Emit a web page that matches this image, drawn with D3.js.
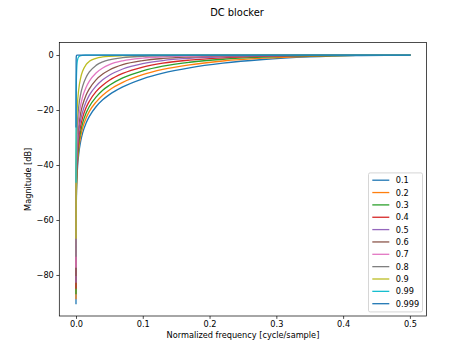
<!DOCTYPE html>
<html>
<head>
<meta charset="utf-8">
<script src="https://cdn.jsdelivr.net/npm/d3@7"></script>
<style>
  html, body { margin: 0; padding: 0; background: #fff; overflow: hidden; }
  svg { display: block; }
  text { font-family: "DejaVu Sans", sans-serif; fill: #000; }
</style>
</head>
<body>
<svg id="mainFrame" width="474" height="355"></svg>
<script>
// frequency grid (cycle/sample) shared by every curve
const freqs = [0.0000079, 0.0002, 0.0005, 0.001, 0.002, 0.004, 0.007, 0.01, 0.015, 0.02,
    0.03, 0.04, 0.05, 0.07, 0.1, 0.13, 0.17, 0.22, 0.28, 0.35, 0.42, 0.5];

const coefs = ['0.1', '0.2', '0.3', '0.4', '0.5', '0.6', '0.7', '0.8', '0.9', '0.99', '0.999'];

// magnitude in dB
const mag01 = [-90.4, -62.3, -54.3, -48.3, -42.3, -36.3, -31.4, -28.3, -24.8, -22.3, -18.8, -16.3, -14.4, -11.6, -8.66, -6.58, -4.65, -2.96, -1.63, -0.69, -0.19, 0];
const mag02 = [-88.6, -60.5, -52.6, -46.5, -40.5, -34.5, -29.6, -26.5, -23.0, -20.5, -17.1, -14.6, -12.7, -9.95, -7.17, -5.26, -3.57, -2.17, -1.15, -0.47, -0.13, 0];
const mag03 = [-86.8, -58.7, -50.7, -44.7, -38.7, -32.6, -27.8, -24.7, -21.2, -18.7, -15.3, -12.8, -11.0, -8.32, -5.74, -4.04, -2.63, -1.53, -0.78, -0.31, -0.09, 0];
const mag04 = [-84.8, -56.7, -48.7, -42.7, -36.7, -30.7, -25.8, -22.7, -19.2, -16.8, -13.3, -11.0, -9.20, -6.69, -4.38, -2.95, -1.84, -1.03, -0.51, -0.20, -0.06, 0];
const mag05 = [-82.6, -54.5, -46.5, -40.5, -34.5, -28.5, -23.6, -20.6, -17.1, -14.6, -11.3, -9.01, -7.34, -5.08, -3.12, -2.01, -1.20, -0.65, -0.31, -0.12, -0.03, 0];
const mag06 = [-80.1, -52.0, -44.0, -38.0, -32.0, -26.0, -21.1, -18.1, -14.6, -12.3, -9.03, -6.92, -5.43, -3.52, -2.04, -1.25, -0.72, -0.38, -0.18, -0.07, -0.02, 0];
const mag07 = [-77.1, -49.0, -41.0, -35.0, -29.0, -23.0, -18.2, -15.1, -11.8, -9.48, -6.52, -4.70, -3.50, -2.10, -1.12, -0.67, -0.38, -0.19, -0.09, -0.03, -0.01, 0];
const mag08 = [-73.1, -45.0, -37.0, -31.0, -25.0, -19.0, -14.2, -11.3, -8.17, -6.15, -3.77, -2.49, -1.74, -0.95, -0.48, -0.28, -0.16, -0.08, -0.03, -0.01, 0, 0];
const mag09 = [-66.6, -38.5, -30.5, -24.5, -18.5, -12.7, -8.27, -5.81, -3.51, -2.30, -1.18, -0.70, -0.45, -0.23, -0.11, -0.07, -0.04, -0.02, -0.01, 0, 0, 0];
const mag099 = [-46.2, -18.1, -10.5, -5.52, -2.15, -0.65, -0.22, -0.11, -0.05, -0.03, -0.01, 0, 0, 0, 0, 0, 0, 0, 0, 0, 0, 0];
const mag0999 = [-26.1, -2.14, -0.42, -0.11, -0.03, -0.01, 0, 0, 0, 0, 0, 0, 0, 0, 0, 0, 0, 0, 0, 0, 0, 0];

const magnitudes = [mag01, mag02, mag03, mag04, mag05, mag06, mag07, mag08, mag09, mag099, mag0999];

const xTicks = [0, 0.1, 0.2, 0.3, 0.4, 0.5];
const yTicks = [0, -20, -40, -60, -80];

const colors = ['#1f77b4', '#ff7f0e', '#2ca02c', '#d62728', '#9467bd', '#8c564b',
    '#e377c2', '#7f7f7f', '#bcbd22', '#17becf', '#1f77b4'];

const svg = d3.select('#mainFrame');
const width = +svg.attr('width');
const height = +svg.attr('height');

const margin = { top: 42.6, right: 47.4, bottom: 39, left: 59.3 };
const innerWidth = width - margin.left - margin.right;
const innerHeight = height - margin.top - margin.bottom;

// matplotlib style 5% margins
const xMin = 0, xMax = 0.5;
const yMin = d3.min(magnitudes, m => d3.min(m)), yMax = 0;
const xPad = (xMax - xMin) * 0.05, yPad = (yMax - yMin) * 0.05;

const xScale = d3.scaleLinear()
    .domain([xMin - xPad, xMax + xPad])
    .range([0, innerWidth]);

const yScale = d3.scaleLinear()
    .domain([yMin - yPad, yMax + yPad])
    .range([innerHeight, 0]);

const g = svg.append('g')
    .attr('transform', `translate(${margin.left},${margin.top})`);

g.append('clipPath').attr('id', 'plotClip')
    .append('rect').attr('width', innerWidth).attr('height', innerHeight);

const line = d3.line()
    .x(d => xScale(d[0]))
    .y(d => yScale(d[1]))
    .curve(d3.curveMonotoneX);

const series = magnitudes.map((m, i) => ({
    label: coefs[i],
    color: colors[i],
    points: freqs.map((f, j) => [f, m[j]])
}));

g.append('g').attr('clip-path', 'url(#plotClip)')
    .selectAll('path').data(series)
    .enter().append('path')
        .attr('d', d => line(d.points))
        .attr('fill', 'none')
        .attr('stroke', d => d.color)
        .attr('stroke-width', 1.3)
        .attr('stroke-linejoin', 'round')
        .attr('stroke-linecap', 'square');

const fmt = d => d.toFixed(1);

const xAxis = d3.axisBottom(xScale)
    .tickValues(xTicks)
    .tickFormat(fmt)
    .tickSize(2.9)
    .tickPadding(2.6);

const xAxisGroup = g.append('g')
    .attr('transform', `translate(0,${innerHeight})`)
    .call(xAxis);
xAxisGroup.select('.domain').remove();

const yAxis = d3.axisLeft(yScale)
    .tickValues(yTicks)
    .tickFormat(d => d < 0 ? '\u2212' + Math.abs(d) : String(d))
    .tickSize(2.9)
    .tickPadding(2.6);

const yAxisGroup = g.append('g').call(yAxis);
yAxisGroup.select('.domain').remove();

[xAxisGroup, yAxisGroup].forEach(ax => {
    ax.attr('font-size', 8.2).attr('font-family', '"DejaVu Sans", sans-serif');
    ax.selectAll('line').attr('stroke', '#000').attr('stroke-width', 0.7);
    ax.selectAll('text').attr('fill', '#000');
});

// frame
g.append('rect')
    .attr('width', innerWidth)
    .attr('height', innerHeight)
    .attr('fill', 'none')
    .attr('stroke', '#000')
    .attr('stroke-width', 0.7);

// axis labels and title
g.append('text')
    .attr('x', innerWidth / 2)
    .attr('y', innerHeight + 21.7)
    .attr('text-anchor', 'middle')
    .attr('font-size', 8.2)
    .text('Normalized frequency [cycle/sample]');

g.append('text')
    .attr('transform', `translate(${31 - margin.left},${innerHeight / 2}) rotate(-90)`)
    .attr('text-anchor', 'middle')
    .attr('font-size', 8.2)
    .text('Magnitude [dB]');

svg.append('text')
    .attr('x', width / 2)
    .attr('y', 15.5)
    .attr('text-anchor', 'middle')
    .attr('font-size', 9.9)
    .text('DC blocker');

// legend, lower right
const fs = 8.2;
const rowH = 12.35;
const legW = 54, legH = 139;
const legX = innerWidth - 4.1 - legW;
const legY = innerHeight - 4.1 - legH;

const legend = g.append('g')
    .attr('transform', `translate(${legX},${legY})`);

legend.append('rect')
    .attr('width', legW)
    .attr('height', legH)
    .attr('rx', 1.6)
    .attr('fill', '#fff')
    .attr('fill-opacity', 0.8)
    .attr('stroke', '#ccc')
    .attr('stroke-width', 0.8);

const item = legend.selectAll('g.item').data(series)
    .enter().append('g')
        .attr('class', 'item')
        .attr('transform', (d, i) => `translate(0,${7.3 + i * rowH})`);

item.append('line')
    .attr('x1', 3.8).attr('x2', 20.8)
    .attr('stroke', d => d.color)
    .attr('stroke-width', 1.3);

item.append('text')
    .attr('x', 27.3)
    .attr('y', 3)
    .attr('font-size', fs)
    .text(d => d.label);
</script>
</body>
</html>
